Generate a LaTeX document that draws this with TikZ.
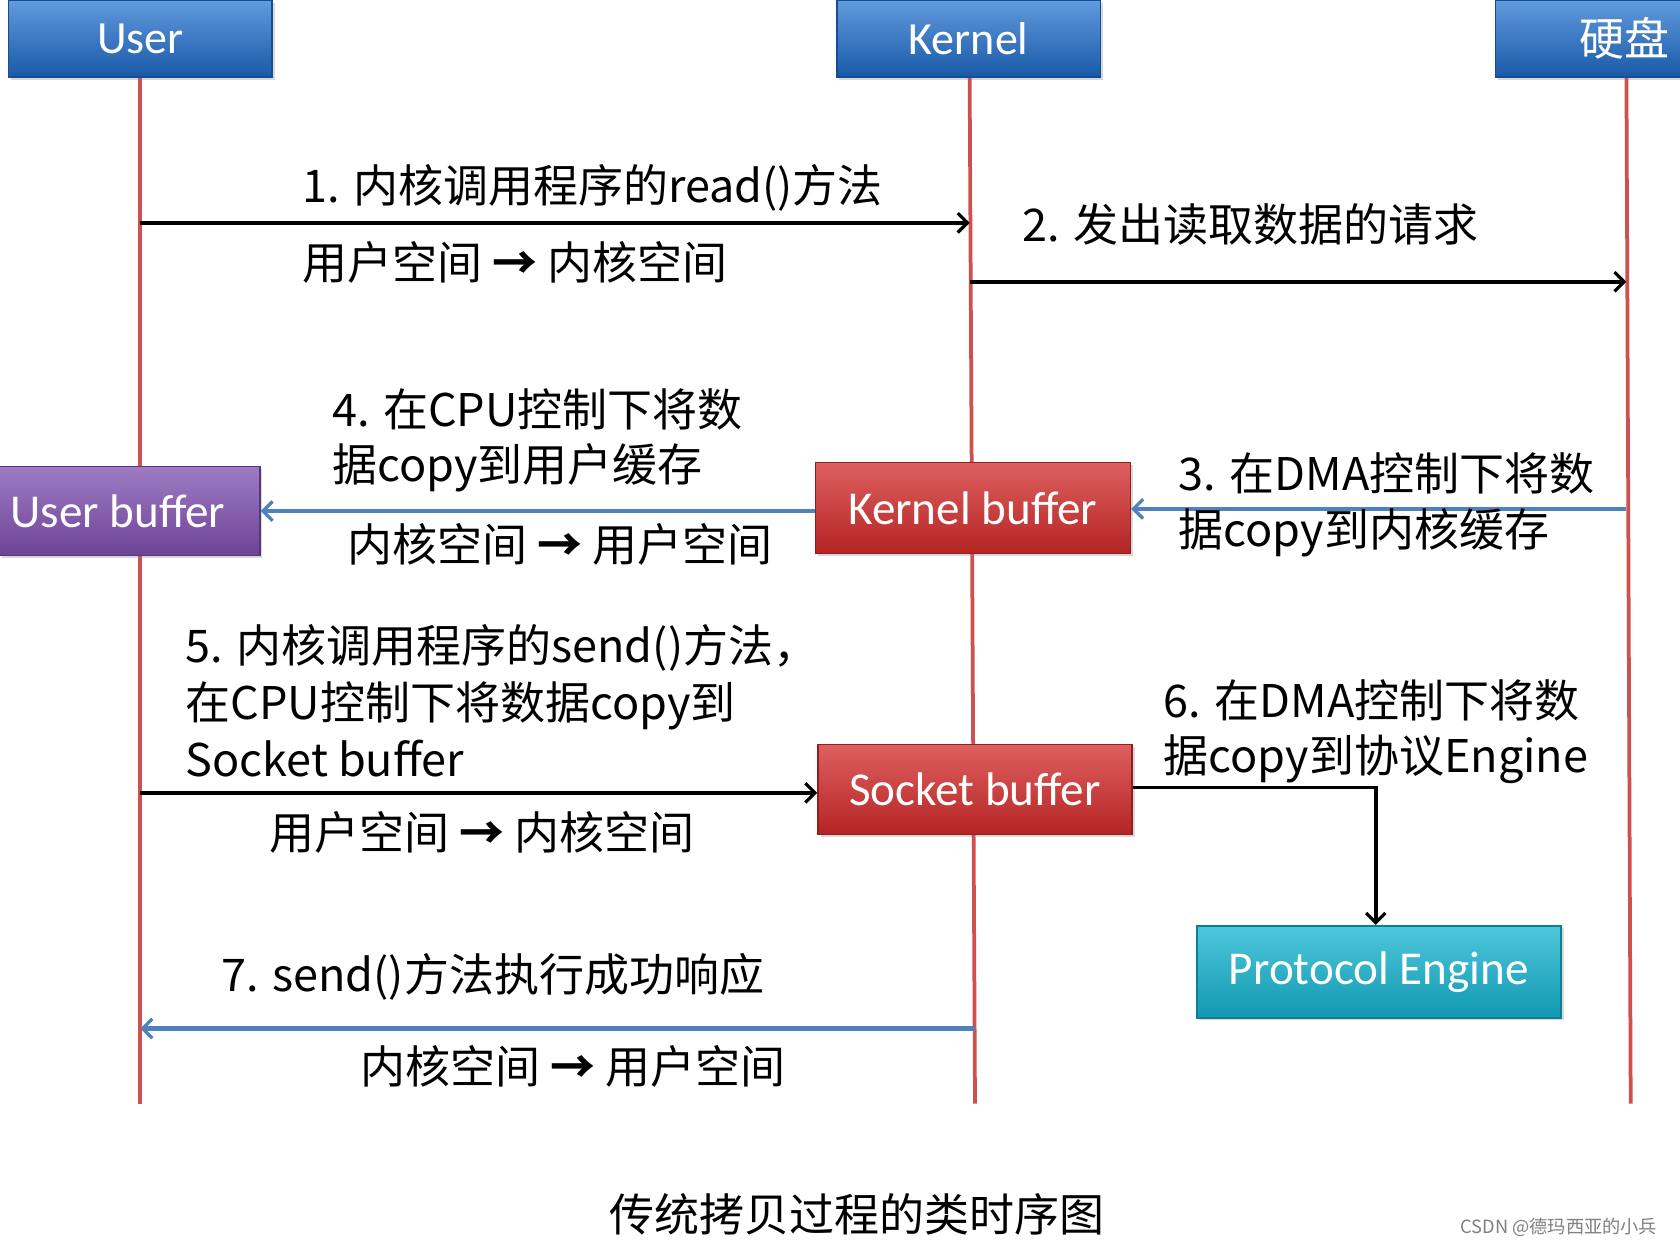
\documentclass[tikz,border=0pt]{standalone}
\usepackage{fontspec}
\setmainfont{Carlito}
\newfontfamily\cjk{Noto Sans CJK SC}
\usetikzlibrary{arrows.meta,shadows}
\definecolor{lifered}{HTML}{D05050}
\definecolor{hdrblue}{HTML}{1E6FD0}
\definecolor{arrblue}{HTML}{4F81BD}
\newcommand{\ra}{{\bfseries →}}
\begin{document}
\begin{tikzpicture}[x=1pt,y=-1pt,
 hdr/.style={draw=hdrblue!70!black,line width=1.5pt,top color=hdrblue!70!white,bottom color=hdrblue!80!black,text=white,font=\fontsize{43}{43}\selectfont,inner sep=0pt,drop shadow={opacity=0.3}},
 buf/.style={draw=#1!70!black,line width=1.5pt,top color=#1!75!white,bottom color=#1!85!black,text=white,font=\fontsize{44}{44}\selectfont,inner sep=0pt,drop shadow={opacity=0.3}},
 life/.style={lifered,line width=3.5pt},
 blk/.style={line width=3.5pt,-{Straight Barb[length=9pt,width=18pt,line width=3pt]}},
 blu/.style={arrblue,line width=4pt,-{Straight Barb[length=9pt,width=18pt,line width=3pt]}},
 lab/.style={font=\cjk\fontsize{42}{52}\selectfont,inner sep=0pt,align=left},
]
\useasboundingbox (0,0) rectangle (1568,1164);
\fill[white] (0,0) rectangle (1568,1164);
\definecolor{ured}{HTML}{D42A2A}
\definecolor{upur}{HTML}{7F4FB0}
\definecolor{ucyan}{HTML}{14B4D0}
% lifelines
\coordinate (uT) at (131,72); \coordinate (uB) at (131,1030);
\coordinate (kT) at (905,72); \coordinate (kB) at (910,1030);
\coordinate (dT) at (1518,72); \coordinate (dB) at (1522,1030);
\draw[life] (uT)--(uB); \draw[life] (kT)--(kB); \draw[life] (dT)--(dB);
% headers
\node[hdr,minimum width=246pt,minimum height=72pt] (user) at (131,36) {User};
\node[hdr,minimum width=246pt,minimum height=72pt] (kernel) at (904,36) {Kernel};
\node[hdr,minimum width=200pt,minimum height=72pt,anchor=west,font=\cjk\fontsize{42}{42}\selectfont] (disk) at (1395,36) {\hspace*{40pt}硬盘};
% buffers
\node[buf=upur,minimum width=243pt,minimum height=83pt] (ubuf) at (121,477) {\hspace*{-22pt}User buffer};
\node[buf=ured,minimum width=294pt,minimum height=85pt] (kbuf) at (908,474) {Kernel buffer};
\node[buf=ured,minimum width=293pt,minimum height=84pt] (sbuf) at (910,737) {Socket buffer};
\node[buf=ucyan,minimum width=340pt,minimum height=86pt] (pe) at (1287,907) {Protocol Engine};
% arrows
\coordinate (a1s) at (131,208); \coordinate (a1e) at (905,208);
\draw[blk] (a1s)--(a1e);
\coordinate (a2s) at (905,263); \coordinate (a2e) at (1518,263);
\draw[blk] (a2s)--(a2e);
\coordinate (a3s) at (1518,475);
\draw[blu] (a3s)--(kbuf.east|-a3s);
\draw[blu] (kbuf.west|-0,477)--(ubuf.east|-0,477);
\coordinate (a5s) at (131,740);
\draw[blk] (a5s)--(sbuf.west|-a5s);
\coordinate (a6m) at (1284,735);
\draw[blk] (sbuf.east|-a6m)--(a6m)--(pe.north-|a6m);
\coordinate (a7s) at (910,960); \coordinate (a7e) at (131,960);
\draw[blu] (a7s)--(a7e);
% labels
\node[lab] (l1) at (553,175) {1. 内核调用程序的read()方法};
\node[lab] (l1b) at (481,245) {用户空间 \ra{} 内核空间};
\node[lab] (l2) at (1167,209) {2. 发出读取数据的请求};
\node[lab,anchor=west] (l3) at (1100,471) {3. 在DMA控制下将数\\据copy到内核缓存};
\node[lab,anchor=west] (l4) at (310,411) {4. 在CPU控制下将数\\据copy到用户缓存};
\node[lab] (l4b) at (523,508) {内核空间 \ra{} 用户空间};
\node[lab,anchor=west,font=\cjk\fontsize{42}{53}\selectfont] (l5) at (173,654) {5. 内核调用程序的send()方法，\\在CPU控制下将数据copy到\\Socket buffer};
\node[lab] (l5b) at (450,777) {用户空间 \ra{} 内核空间};
\node[lab,anchor=west] (l6) at (1086,683) {6. 在DMA控制下将数\\据copy到协议Engine};
\node[lab] (l7) at (460,912) {7. send()方法执行成功响应};
\node[lab] (l7b) at (535,995) {内核空间 \ra{} 用户空间};
\node[lab] (cap) at (800,1133) {传统拷贝过程的类时序图};
\node[font=\cjk\fontsize{17}{17}\selectfont,text=gray,inner sep=0pt] (wm) at (1455,1146) {CSDN @德玛西亚的小兵};
\end{tikzpicture}
\end{document}
